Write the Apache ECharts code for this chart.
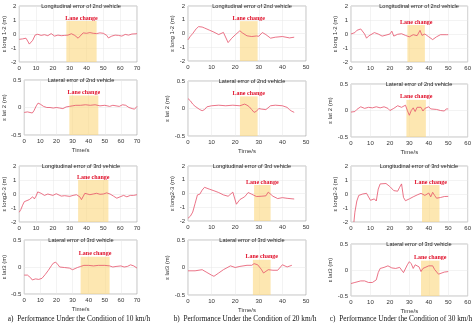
<!DOCTYPE html>
<html><head><meta charset="utf-8">
<script src="https://cdn.jsdelivr.net/npm/echarts@6/dist/echarts.min.js"></script>
<style>html,body{margin:0;padding:0;background:#fff}#c{width:474px;height:323px}</style>
</head><body><div id="c"></div>
<script>
// ---- data: [time (s), error (m)] ----
const a_long12 = [[0,-0.38],[2,-0.35],[4,-0.3],[5,-0.5],[6,-0.72],[7,-0.8],[8,-0.45],[9.5,-0.07],[11,-0.02],[13,-0.1],[15,-0.05],[17,-0.12],[19,0.03],[21,-0.15],[23,-0.08],[25,-0.12],[27,-0.1],[29,-0.08],[31,0.02],[33,-0.1],[35,-0.3],[36,-0.2],[38,0.08],[40,0.05],[42,0.1],[44,0.05],[46,0.03],[48,0.08],[50,0.05],[52,-0.1],[53,-0.28],[55,-0.15],[57,-0.08],[59,-0.1],[61,-0.15],[63,-0.03],[65,-0.08],[67,0],[70,0.02]];
const a_lat2 = [[0,-0.09],[2,-0.08],[3,-0.07],[5,-0.1],[6,-0.06],[7.5,0.03],[8.6,0.08],[10,0.06],[12,0.02],[14,0],[16,0],[18,-0.01],[20,0],[22,-0.01],[24,-0.02],[26,0.01],[28,0.02],[30,0.03],[32,0.04],[35,0.04],[38,0.05],[41,0.04],[44,0.05],[47,0.03],[50,0.04],[53,0.02],[55,0.04],[57,0.03],[59,0.02],[61,0.05],[63,0.04],[65,0],[67,-0.02],[68.5,-0.03],[70,0.02]];
const a_long23 = [[0,-1.3],[1,-1.1],[2,-0.8],[3,-0.55],[4,-0.5],[6,-0.4],[7,-0.35],[8,-0.2],[9,-0.35],[10,-0.15],[11,0.15],[12,0.1],[13,0.05],[15,-0.1],[17,0],[18,-0.02],[20,-0.1],[22,0.02],[23,0.05],[25,-0.15],[27,-0.12],[30,-0.17],[32,-0.1],[34,-0.05],[35,-0.1],[36,-0.2],[37,-0.4],[38,-0.3],[39,0.05],[40,0.1],[42,-0.05],[44,0],[46,0.05],[48,-0.02],[50,0],[52,0.08],[54,0],[56,-0.15],[58,-0.3],[60,-0.2],[62,-0.1],[64,-0.2],[66,-0.1],[68,-0.1],[70,-0.05]];
const a_lat3 = [[0,-0.15],[2,-0.15],[3,-0.16],[4,-0.2],[5,-0.24],[7,-0.22],[8,-0.21],[9,-0.23],[10,-0.24],[11,-0.21],[12,-0.2],[13,-0.14],[15,-0.06],[17,0.03],[18,0.07],[19.5,0.09],[21,0.04],[22,0],[25,-0.01],[28,-0.02],[30,-0.05],[31,-0.04],[33,-0.01],[35,0.01],[37,0.03],[40,0.03],[43,0.02],[46,0.03],[50,0.03],[53,0.02],[55,0],[57,0.01],[60,0.02],[62,0],[64,0.01],[66,0.04],[68,0.02],[70,-0.02]];
const b_long12 = [[0,-0.46],[1,-0.2],[2,0],[3.5,0.35],[4.5,0.5],[6,0.47],[7,0.4],[9,0.25],[11,0.1],[13,-0.08],[14,0],[15,0.08],[15.8,0.1],[17,-0.66],[18.5,-0.35],[20,-0.1],[22,0.2],[23,0.05],[25,-0.17],[27,-0.22],[29,-0.18],[30,-0.2],[31.5,0.07],[33,-0.08],[35,-0.34],[37,-0.27],[40,-0.22],[43,-0.32],[45,-0.27]];
const b_lat2 = [[0,0.18],[1,0.14],[2,0.08],[3,0.04],[5,-0.02],[6,-0.04],[7,-0.02],[8,0.03],[10,0.05],[13,0.06],[16,0.05],[19,0.06],[22,0.05],[24,0.08],[25,0.06],[26,0.03],[27,-0.02],[28,-0.07],[29,-0.05],[30,0],[31,-0.01],[33,-0.02],[35,0.05],[37,0.06],[40,0.05],[42,0.02],[43,-0.02],[44,-0.05],[45,-0.07]];
const b_long23 = [[0,-1.8],[1,-1.65],[2,-1.35],[3,-0.73],[4,-0.1],[5,-0.05],[6,0.25],[7,0.45],[9,0.32],[11,0.2],[13,0.07],[15,-0.1],[17,-0.2],[19,0.1],[19.5,0.05],[20.5,-0.78],[22,-0.44],[24,-0.24],[25.5,0.07],[27,-0.05],[29,-0.22],[31,-0.2],[33,-0.17],[34,0.1],[36,-0.2],[38,-0.37],[40,-0.3],[42,-0.35],[45,-0.4]];
const b_lat3 = [[0,-0.06],[3,-0.06],[6,-0.04],[8,-0.09],[10,-0.14],[11,-0.16],[13,-0.1],[15,-0.04],[18,0.03],[20,0],[22,0.02],[25,0.04],[27,0.04],[28,0.07],[29.5,0.05],[31,-0.03],[32,-0.1],[34,-0.04],[36,-0.05],[38,-0.05],[40,0.05],[42,0.01],[44,0.04]];
const c_long12 = [[0,0],[1,-0.02],[2,0.1],[3,0.26],[5,0.36],[6,0.25],[7,0],[8,-0.3],[9,-0.15],[10,-0.05],[12,0.1],[14,0],[16,-0.15],[18,-0.08],[20,0],[21,0.2],[22,-0.15],[23,-0.05],[24,-0.02],[26,0.02],[28,-0.1],[30,-0.2],[32,-0.05],[34,-0.12],[35.5,0.26],[36.5,-0.1],[38,0],[40,-0.2],[42,-0.4],[44,-0.2],[46,-0.05],[47,0.02],[49,-0.05],[50,-0.05]];
const c_lat2 = [[0,-0.03],[1,-0.06],[2,-0.02],[3,0.02],[5,0.07],[7,0.04],[9,0.06],[11,0.05],[13,0.07],[15,0.05],[17,0.07],[19,0.04],[20,0],[21,-0.02],[22,0.04],[23,0.07],[24,0.09],[25,0.08],[26,0.06],[27,0.09],[28,0.1],[29,0],[30,-0.09],[31,0],[32,0.05],[33,-0.02],[34,0.06],[35,0.08],[36,0.06],[37,-0.01],[38,0.04],[40,0.07],[41,0.03],[42,0],[44,0.02],[46,0],[48,-0.01],[49,0.03],[50,0.03]];
const c_long23 = [[1.5,-2],[2,-1.3],[3,-0.5],[4,-0.1],[6,0],[8,0.05],[9,0],[10,-0.45],[11,-0.5],[12,-0.35],[13,-0.5],[14,0.35],[15,0.72],[16,0.85],[18,0.75],[20,0.53],[22,0.24],[24,0.2],[25,0.48],[26,0.72],[27,-0.24],[28,-0.48],[30,-0.35],[32,-0.2],[34,-0.07],[36,0.05],[38,-0.1],[40,0.07],[41,-0.2],[42,0.12],[43,-0.1],[44,-0.3],[46,-0.25],[48,-0.18],[50,-0.17]];
const c_lat3 = [[0,-0.26],[2,-0.24],[3,-0.22],[5,-0.21],[7,-0.21],[9,-0.24],[11,-0.24],[12,-0.26],[13,-0.19],[14,-0.05],[15,0.03],[17,0.05],[19,0.08],[21,0.04],[23,0.03],[25,0.05],[27,-0.05],[28,-0.03],[29,0.1],[30,0.16],[31,0.12],[32,0.03],[33,0.1],[34,0.13],[35,0.06],[36,-0.03],[37,0.03],[38,0.06],[40,0.08],[42,0.08],[43,0.01],[45,-0.08],[46,-0.05],[48,-0.04],[50,-0.03]];

// lane change windows [start, end, top]
const laneA = [[28,46,0.93],[28,46,0.22],[35,53,1.0],[35,53,0.19]];
const laneB = [[22,29.5,0.9],[22,29.5,0.22],[28,35,0.62],[27.5,35,0.14]];
const laneC = [[29,38,0.64],[28.5,38.5,0.2],[36.5,45.5,0.64],[36,45.5,0.18]];

const titles = ['Longitudinal error of 2nd vehicle','Lateral error of 2nd vehicle','Longitudinal error of 3rd vehicle','Lateral error of 3rd vehicle'];
const yNames = ['\u03b5 long 1-2 (m)','\u03b5 lat 2 (m)','\u03b5 long2-3 (m)','\u03b5 lat3 (m)'];
const captions = ['a)  Performance Under the Condition of 10 km/h','b)  Performance Under the Condition of 20 km/h','c)  Performance Under the Condition of 30 km/h'];
const xMax = [70,50,60];

// ---- layout ----
const cols = [{left:15,width:122},{left:188,width:118},{left:351,width:126}];
const rowsPx = [
  [[6,56],[80,55],[166,56],[240,54]],
  [[6,55],[81,55],[166,55],[240,55]],
  [[6,56],[84,53],[166,56],[244,52]]
];
const capX = [74,240,396];
const series = [[a_long12,a_lat2,a_long23,a_lat3],[b_long12,b_lat2,b_long23,b_lat3],[c_long12,c_lat2,c_long23,c_lat3]];
const lanes = [laneA,laneB,laneC];

const grid=[], xAxis=[], yAxis=[], ser=[], title=[];
const font = 'Liberation Sans, Arial, sans-serif';
let k=0;
for (let c=0;c<3;c++){
  for (let r=0;r<4;r++){
    const [top,h] = rowsPx[c][r];
    grid.push({left:cols[c].left, top:top, width:cols[c].width, height:h, show:true, borderColor:'#9a9a9a', borderWidth:0.6, backgroundColor:'#fff'});
    const big = (r%2===0);
    xAxis.push({type:'value', gridIndex:k, min:0, max:xMax[c], interval:10,
      axisLine:{show:false}, axisTick:{show:false},
      axisLabel:{fontSize:6, color:'#333', margin:3, fontFamily:font},
      splitLine:{show:true, lineStyle:{color:'#e6e6e6', width:0.5}},
      name: (r%2===1)?'Time/s':'', nameLocation:'middle', nameGap:12,
      nameTextStyle:{fontSize:6, color:'#333', fontFamily:font}});
    yAxis.push({type:'value', gridIndex:k, min: big?-2:-0.5, max: big?2:0.5, interval: big?1:0.5,
      axisLine:{show:false}, axisTick:{show:false},
      axisLabel:{fontSize:6, color:'#333', margin:3, fontFamily:font},
      splitLine:{show:true, lineStyle:{color:'#e6e6e6', width:0.5}},
      name:yNames[r], nameLocation:'middle', nameGap: big?9:12, nameRotate:90,
      nameTextStyle:{fontSize:6, color:'#333', fontFamily:font}});
    const L = lanes[c][r];
    ser.push({type:'line', xAxisIndex:k, yAxisIndex:k, data:series[c][r], symbol:'none',
      lineStyle:{color:'#e6506a', width:0.8}, z:3,
      markArea:{silent:true, itemStyle:{color:'rgba(252,215,125,0.6)'},
        label:{show:true, position:'top', distance:0, formatter:'Lane change', color:'#e0102a', fontSize:6, fontWeight:'bold', fontFamily:'Liberation Serif, Times New Roman, serif'},
        data:[[{coord:[L[0], big?-2:-0.5]},{coord:[L[1], L[2]]}]]}});
    title.push({text:titles[r], left:cols[c].left+cols[c].width/2, top:top-8, textAlign:'center',
      textStyle:{fontSize:5.6, fontWeight:'normal', color:'#222', fontFamily:font}});
    k++;
  }
  title.push({text:captions[c], left:capX[c], top:311, textAlign:'center',
    textStyle:{fontSize:7.3, fontWeight:'normal', color:'#111', fontFamily:'Liberation Serif, Times New Roman, serif'}});
}

const chart = echarts.init(document.getElementById('c'), null, {renderer:'canvas'});
chart.setOption({animation:false, backgroundColor:'#fff', title, grid, xAxis, yAxis, series:ser});
</script>
</body></html>
